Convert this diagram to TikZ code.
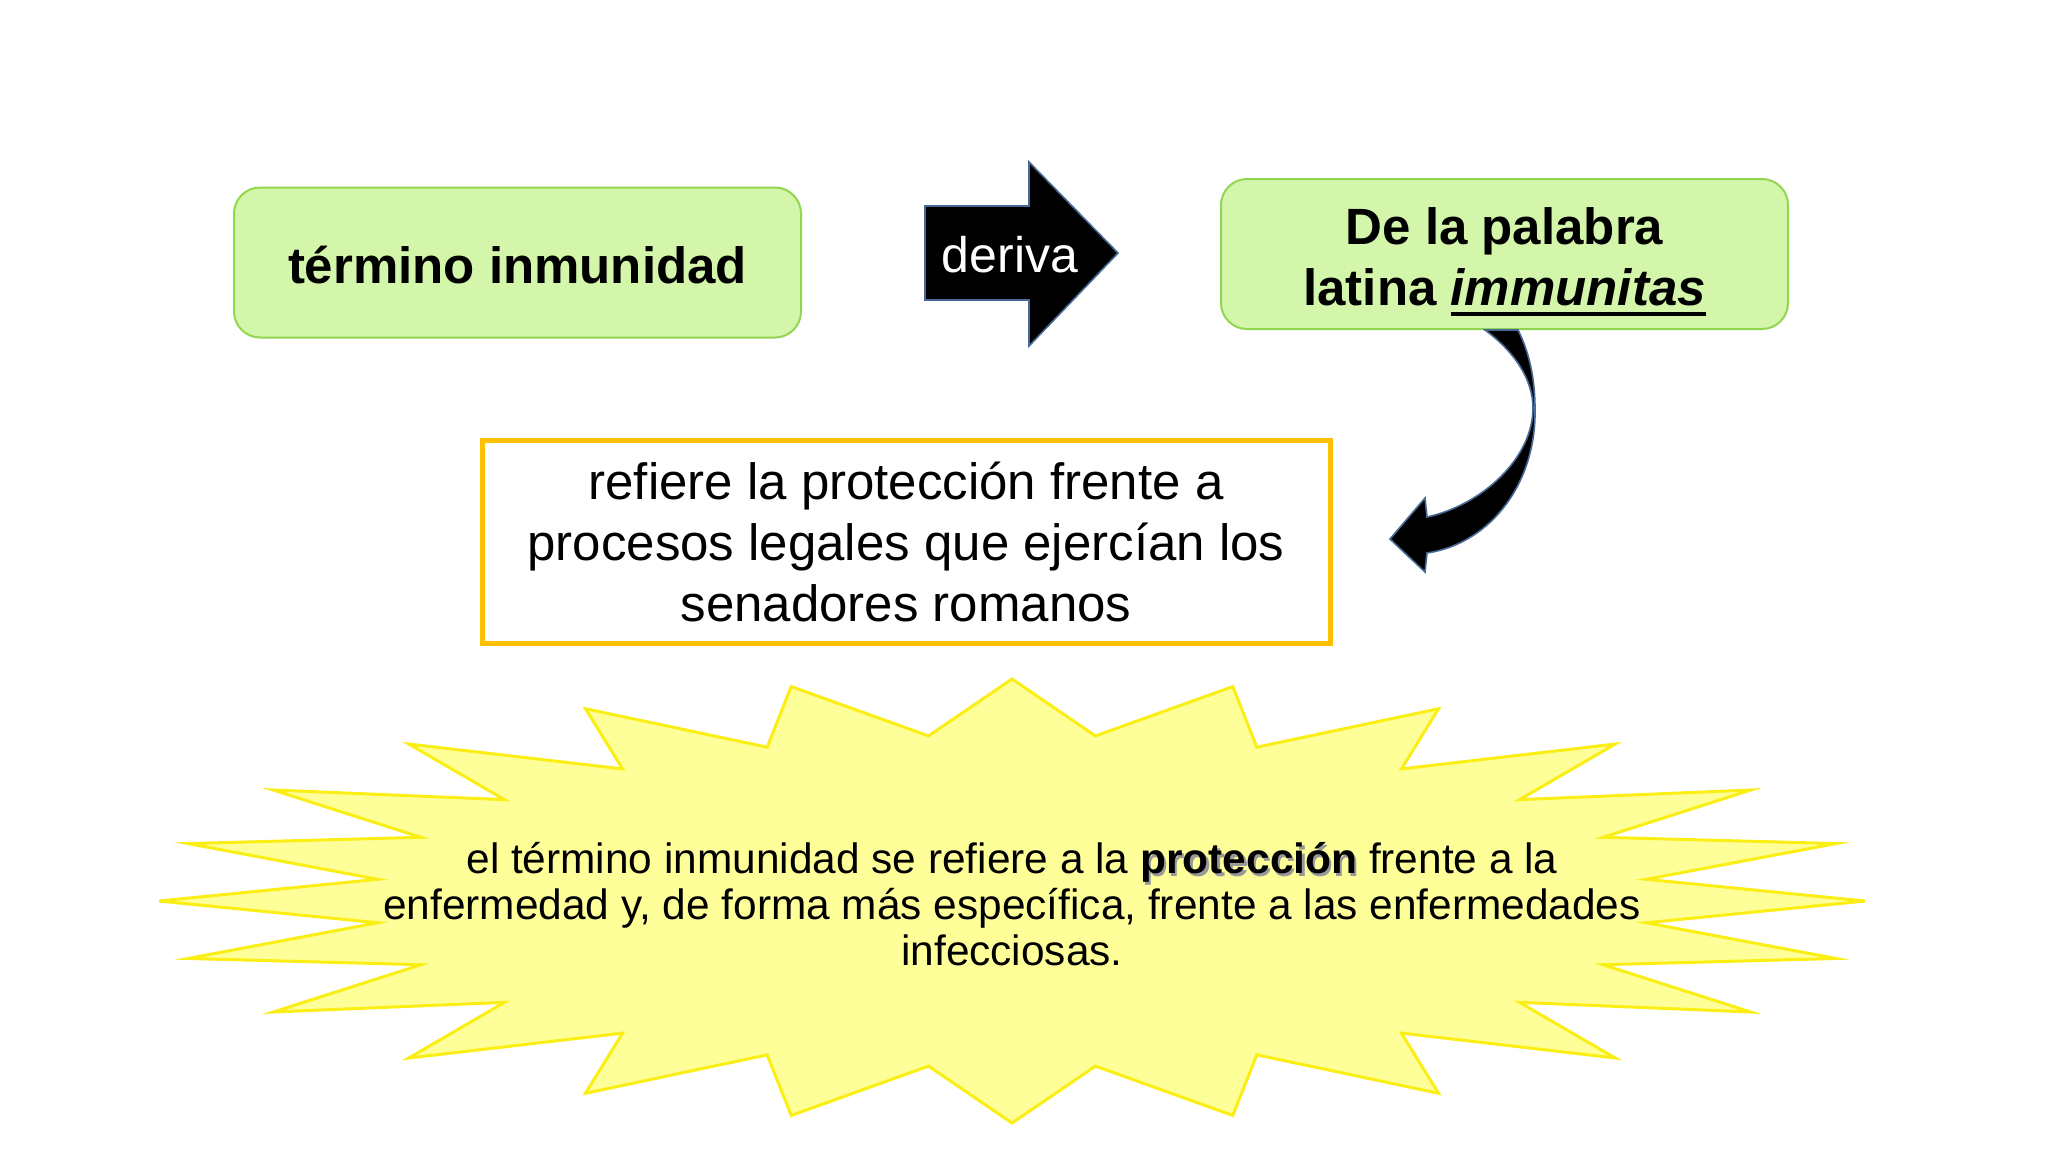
\documentclass[tikz,border=0pt]{standalone}
\usepackage{fontspec}
\setmainfont{Liberation Sans}
\definecolor{boxgreen}{RGB}{212,246,170}
\definecolor{boxgreenline}{RGB}{146,214,80}
\definecolor{orangeline}{RGB}{255,192,0}
\definecolor{starfill}{RGB}{255,255,153}
\definecolor{starline}{RGB}{250,238,20}
\definecolor{arrowline}{RGB}{70,105,150}
\newcommand\thickul[1]{\setbox0\hbox{#1}\rlap{\rule[-5pt]{\wd0}{2.2pt}}\box0}
\newcommand\shadowtext[1]{\rlap{\hspace{1.2pt}\raisebox{-1.5pt}{\textcolor{black!40}{#1}}}#1}
\tikzset{
  greenbox/.style={draw=boxgreenline, fill=boxgreen, line width=1pt, rounded corners=13pt,
    minimum width=283.5pt, minimum height=75pt, inner sep=0pt},
  greentext/.style={align=center, inner sep=0pt,
    font=\fontsize{25.5}{30.5}\selectfont\bfseries},
  orangebox/.style={draw=orangeline, fill=white, line width=2.5pt,
    minimum width=424pt, minimum height=101.5pt, align=center, inner sep=0pt,
    font=\fontsize{25.5}{30.5}\selectfont},
  blockarrow/.style={fill=black, draw=arrowline, line width=0.8pt, line join=miter},
  starshape/.style={fill=starfill, draw=starline, line width=1.5pt, line join=miter},
  startext/.style={align=center, inner sep=0pt, font=\fontsize{21.2}{23}\selectfont}
}
\begin{document}
\begin{tikzpicture}[x=0.5pt,y=-0.5pt]
\useasboundingbox[fill=white] (0,0) rectangle (2048,1152);

% boxes
\node[greenbox] (term) at (517.5,262.5) {};
\node[greentext] (termtext) at (517.5,265.5) {término inmunidad};
\node[greenbox] (latin) at (1504.5,254) {};
\node[greentext] (latintext) at (1504.5,262) {De la palabra\\latina \thickul{\textit{immunitas}}};
\node[orangebox] (refiere) at (906,541.5) {refiere la protección frente a\\procesos legales que ejercían los\\senadores romanos};

% deriva block arrow
\draw[blockarrow] (925,206) -- (1029,206) -- (1029,162) -- (1118,253) -- (1029,346)
  -- (1029,300) -- (925,300) -- cycle;
\node[text=white, font=\fontsize{25}{30}\selectfont] (deriva) at (1010,255) {deriva};

% curved arrow from latin box to orange box
\coordinate (cA) at (1485,330);
\coordinate (cB) at (1518,330);
\draw[blockarrow] (cA) .. controls (1515,352) and (1533,380) .. (1533,408)
  .. controls (1533,458) and (1482,505) .. (1427,517)
  -- (1425,498) -- (1390,539) -- (1425,572) -- (1427,553)
  .. controls (1492,543) and (1536,482) .. (1535,410)
  .. controls (1535,375) and (1528,350) .. (cB) -- cycle;

% star
\draw[starshape] (1012,679)
  \foreach \a in {15,30,...,345} {
    -- ({1012+639.75*sin(\a-7.5)},{901-166.5*cos(\a-7.5)})
    -- ({1012+853*sin(\a)},{901-222*cos(\a)})
  }
  -- ({1012+639.75*sin(352.5)},{901-166.5*cos(352.5)}) -- cycle;
\node[startext] (sttext) at (1012,904) {el término inmunidad se refiere a la \shadowtext{\textbf{protección}} frente a la\\enfermedad y, de forma más específica, frente a las enfermedades\\infecciosas.};
\end{tikzpicture}
\end{document}
